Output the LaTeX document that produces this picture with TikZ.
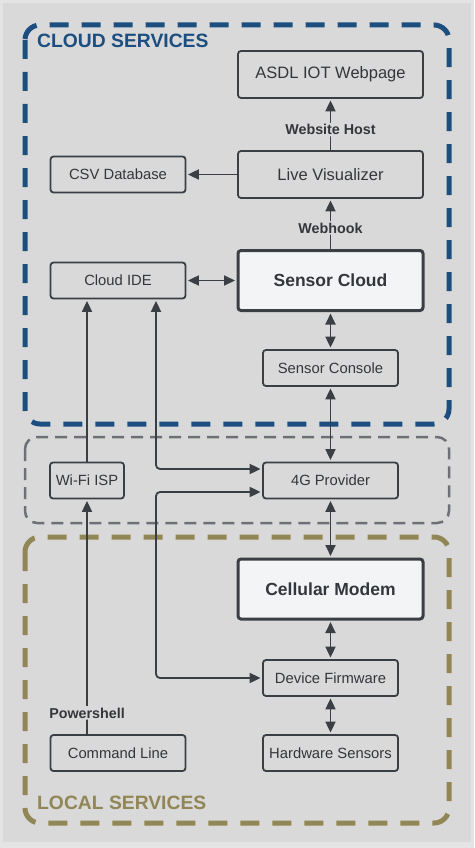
\documentclass[tikz,border=0pt]{standalone}
\usepackage{fontspec}
\setmainfont{Liberation Sans}
\usetikzlibrary{arrows.meta,calc}
\definecolor{bgout}{HTML}{E4E4E4}
\definecolor{bgin}{HTML}{D9D9D9}
\definecolor{ink}{HTML}{3A3E45}
\definecolor{txt}{HTML}{33363B}
\definecolor{cloudblue}{HTML}{1C4E80}
\definecolor{olive}{HTML}{918656}
\definecolor{grayd}{HTML}{6E7078}
\definecolor{hi}{HTML}{F3F4F6}
\tikzset{
  box/.style={draw=ink, line width=1.8pt, rounded corners=3pt, text=txt, align=center, inner sep=0pt},
  bigbox/.style={box, minimum width=185pt, minimum height=47pt, font=\fontsize{16.5}{19}\selectfont},
  smallbox/.style={box, minimum width=135pt, minimum height=36pt, font=\fontsize{14.8}{17}\selectfont},
  keybox/.style={box, line width=3pt, fill=hi, minimum width=185pt, minimum height=60pt, font=\bfseries\fontsize{17.5}{20}\selectfont},
  tip/.tip={Triangle[length=11pt,width=10pt]},
  conn/.style={draw=ink, line width=1.8pt, -tip, shorten >=1.5pt, rounded corners=4pt},
  biconn/.style={conn, tip-tip, shorten <=1.5pt},
  lbl/.style={fill=bgin, text=txt, font=\bfseries\fontsize{14.3}{17}\selectfont, inner sep=1.5pt},
  grouptitle/.style={anchor=west, font=\bfseries\fontsize{19.3}{22}\selectfont, inner sep=0pt},
}
\begin{document}
\begin{tikzpicture}[x=1pt,y=-1pt]
\useasboundingbox (0,0) rectangle (474,848);
\fill[bgout] (0,0) rectangle (474,848);
\fill[bgin] (3,3) rectangle (471,842);
% groups
\draw[cloudblue, line width=5pt, dash pattern=on 19pt off 13pt, rounded corners=15pt] (25,25) rectangle (449,424);
\draw[grayd, line width=2.5pt, dash pattern=on 12pt off 7pt, rounded corners=12pt] (25,437) rectangle (449,523);
\draw[olive, line width=5pt, dash pattern=on 19pt off 13pt, rounded corners=15pt] (25,537) rectangle (449,823);
\node[grouptitle, text=cloudblue] (tcloud) at (37,41) {CLOUD SERVICES};
\node[grouptitle, text=olive] (tlocal) at (37,803) {LOCAL SERVICES};
% nodes
\node[bigbox] (asdl) at (330.5,74.5) {ASDL IOT Webpage};
\node[bigbox] (live) at (330.5,174.5) {Live Visualizer};
\node[smallbox] (csv) at (118,174.5) {CSV Database};
\node[smallbox] (cide) at (118,280.5) {Cloud IDE};
\node[keybox] (scloud) at (330.5,280.5) {Sensor Cloud};
\node[smallbox] (scons) at (330.5,368) {Sensor Console};
\node[smallbox, minimum width=74pt] (wifi) at (87,480.5) {Wi-Fi ISP};
\node[smallbox] (g4) at (330.5,480.5) {4G Provider};
\node[keybox] (modem) at (330.5,589) {Cellular Modem};
\node[smallbox] (fw) at (330.5,678) {Device Firmware};
\node[smallbox] (hw) at (330.5,753) {Hardware Sensors};
\node[smallbox] (cmd) at (118,753) {Command Line};
\coordinate (lane) at (156,0);
\coordinate (g4hi) at ([yshift=11.5pt]g4.west);
\coordinate (g4lo) at ([yshift=-11.5pt]g4.west);
% connectors
\draw[conn] (live) -- node[lbl, pos=0.4] (lwh) {Website Host} (asdl);
\draw[conn] (scloud) -- node[lbl, pos=0.42] (lwb) {Webhook} (live);
\draw[conn] (live) -- (csv);
\draw[biconn] (cide) -- (scloud);
\draw[biconn] (scloud) -- (scons);
\draw[biconn] (scons) -- (g4);
\draw[biconn] (g4) -- (modem);
\draw[biconn] (modem) -- (fw);
\draw[biconn] (fw) -- (hw);
\draw[conn] (cmd.north -| wifi.south) -- node[lbl, pos=0.09] (lps) {Powershell} (wifi.south);
\draw[conn] (wifi) -- (cide.south -| wifi.north);
\draw[biconn] (cide.south -| lane) |- (g4hi);
\draw[biconn] (fw.west) -| (lane |- g4lo) -- (g4lo);
\end{tikzpicture}
\end{document}
